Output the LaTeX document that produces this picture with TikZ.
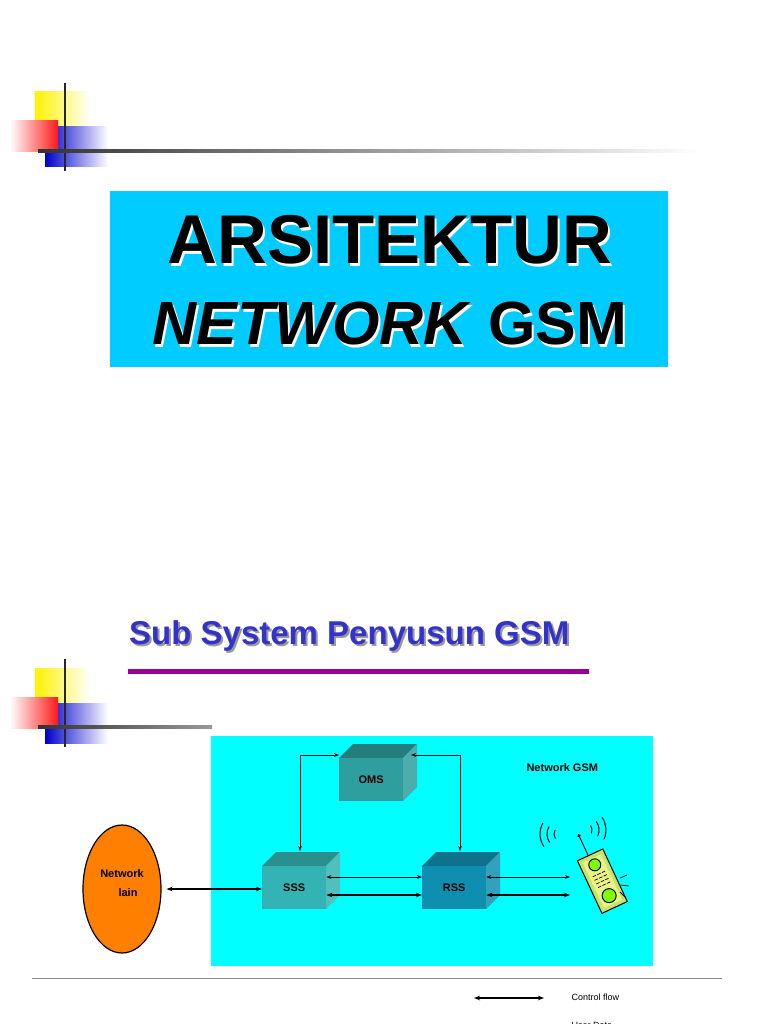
\documentclass[tikz,border=0pt]{standalone}
\usepackage{fontspec}
\setmainfont{Liberation Sans}
\usetikzlibrary{arrows.meta,shadings,shapes.geometric}
\definecolor{ttl}{HTML}{00CCFF}
\definecolor{netbg}{HTML}{00FFFF}
\definecolor{purp}{HTML}{990099}
\definecolor{subblue}{HTML}{3333CC}
\definecolor{boxA}{HTML}{2E9E9E}
\definecolor{boxB}{HTML}{33B3B3}
\definecolor{boxC}{HTML}{0F8FB0}
\tikzset{
 arr/.style={{Stealth[length=5pt]}-{Stealth[length=5pt]}, line width=0.7pt},
 arrb/.style={{Stealth[length=6pt]}-{Stealth[length=6pt]}, line width=1.4pt},
 lbl/.style={font=\bfseries\fontsize{11}{13}\selectfont},
}
\newcommand{\deco}[1]{%
 \begin{scope}[yshift=#1]
 \shade[left color=yellow!90!orange, right color=white] (35,-92) rectangle (90,-127);
 \shade[left color=blue!80!black, right color=white] (45,-127) rectangle (108,-167);
 \shade[left color=white, right color=red!90] (10,-121) rectangle (58,-152);
 \draw[line width=2.5pt,black!85] (65,-83) -- (65,-171);
 \end{scope}}
\newcommand{\cube}[5]{%
 \fill[#4!80!black] (#1,#2) -- ++(14,14) -- ++(64,0) -- ++(-14,-14) -- cycle;
 \fill[#4!85!white] (#1+64,#2) -- ++(14,14) -- ++(0,-43) -- ++(-14,-14) -- cycle;
 \node[fill=#4, minimum width=64, minimum height=43, inner sep=0, anchor=north west, lbl] (#3) at (#1,#2) {#5};}
\begin{document}
\begin{tikzpicture}[x=1pt,y=1pt]
\useasboundingbox (0,0) rectangle (768,-1024);
\fill[white] (0,0) rectangle (768,-1024);
\deco{0}
\shade[left color=black!80, right color=white] (38,-149.5) rectangle (700,-152.5);
\deco{-576}
\shade[left color=black!80, right color=black!40] (38,-725.5) rectangle (212,-728.5);
\node[fill=ttl, minimum width=558, minimum height=176, anchor=north west, inner sep=0] (title) at (110,-191) {};
\node[font=\bfseries\fontsize{69}{76}\selectfont, text=white] at (392,-243) {ARSITEKTUR};
\node[font=\bfseries\fontsize{69}{76}\selectfont] (t1) at (390,-240) {ARSITEKTUR};
\node[font=\bfseries\fontsize{61}{70}\selectfont, text=white] at (392,-326) {\textit{NETWORK} GSM};
\node[font=\bfseries\fontsize{61}{70}\selectfont] (t2) at (390,-323) {\textit{NETWORK} GSM};
\node[font=\bfseries\fontsize{33}{38}\selectfont, text=black!40, anchor=west, inner sep=0] at (131,-638) {Sub System Penyusun GSM};
\node[font=\bfseries\fontsize{33}{38}\selectfont, text=subblue, anchor=west, inner sep=0] (sub) at (129,-636) {Sub System Penyusun GSM};
\fill[purp] (128,-669) rectangle (589,-674);
\fill[netbg] (211,-736) rectangle (653,-966);
\node[lbl, anchor=west] (ng) at (523,-768) {Network GSM};
\cube{339}{-758}{oms}{boxA}{OMS}
\cube{262}{-866}{sss}{boxB}{SSS}
\cube{422}{-866}{rss}{boxC}{RSS}
\begin{scope}[shift={(602,-878)}, rotate=25]
 \draw[line width=0.9pt] (-3,24) -- (-3,48);
 \fill[black] (-3,48) circle (1.8);
 \draw[line width=1pt,fill=yellow!60!green!60] (-15,-32) rectangle (13,26);
 \fill[yellow!85!green!50] (-11,-28) rectangle (9,22);
 \draw[line width=1pt, fill=green!50!yellow] (-1,15) circle (6);
 \draw[line width=1pt, fill=green!50!yellow] (-1,-19) circle (7);
 \foreach \yy in {5,1,-3,-7} \foreach \xx in {-6,-1,4} \draw[line width=0.7pt] (\xx-1.8,\yy) -- (\xx+1.8,\yy);
\end{scope}
\foreach \r in {8,15,22}{
 \draw[line width=1pt] (562,-834)++(150:\r) arc (150:215:\r);
 \draw[line width=1pt] (584,-830)++(35:\r) arc (35:-25:\r);}
\draw[line width=0.8pt] (620,-878) -- (627,-875) (621,-885) -- (629,-886) (620,-892) -- (625,-897);
\coordinate (ph1) at (570,-877);
\coordinate (ph2) at (570,-895);
\node[draw, line width=1.2pt, fill=orange, ellipse, minimum width=78, minimum height=128, inner sep=0] (nl) at (122,-889) {};
\node[lbl, align=center] at (122,-883) {Network\\[6pt]\hspace{12pt}lain};
\draw[arrb] (nl.east |- 0,-889) ++(5,0) -- (sss.west |- 0,-889);
\draw[arr] (sss.east |- 0,-877) -- (rss.west |- 0,-877);
\draw[arrb] (sss.east |- 0,-895) -- (rss.west |- 0,-895);
\draw[arr] (rss.east |- 0,-877) -- (ph1);
\draw[arrb] (rss.east |- 0,-895) -- (ph2);
\draw[arr] (300,-851) -- (300,-755) -- (oms.north west |- 0,-755);
\draw[arr] (460,-851) -- (460,-755) -- (411,-755);
\draw[black!45, line width=1pt] (32,-978) -- (722,-978);
\coordinate (la) at (474,-998);
\coordinate (lb) at (544,-998);
\draw[arrb] (la) -- (lb);
\node[font=\fontsize{9}{11}\selectfont, anchor=west] (cf) at (568,-997) {Control flow};
\node[font=\fontsize{9}{11}\selectfont, anchor=west] (ud) at (568,-1025) {User Data};
\end{tikzpicture}
\end{document}
